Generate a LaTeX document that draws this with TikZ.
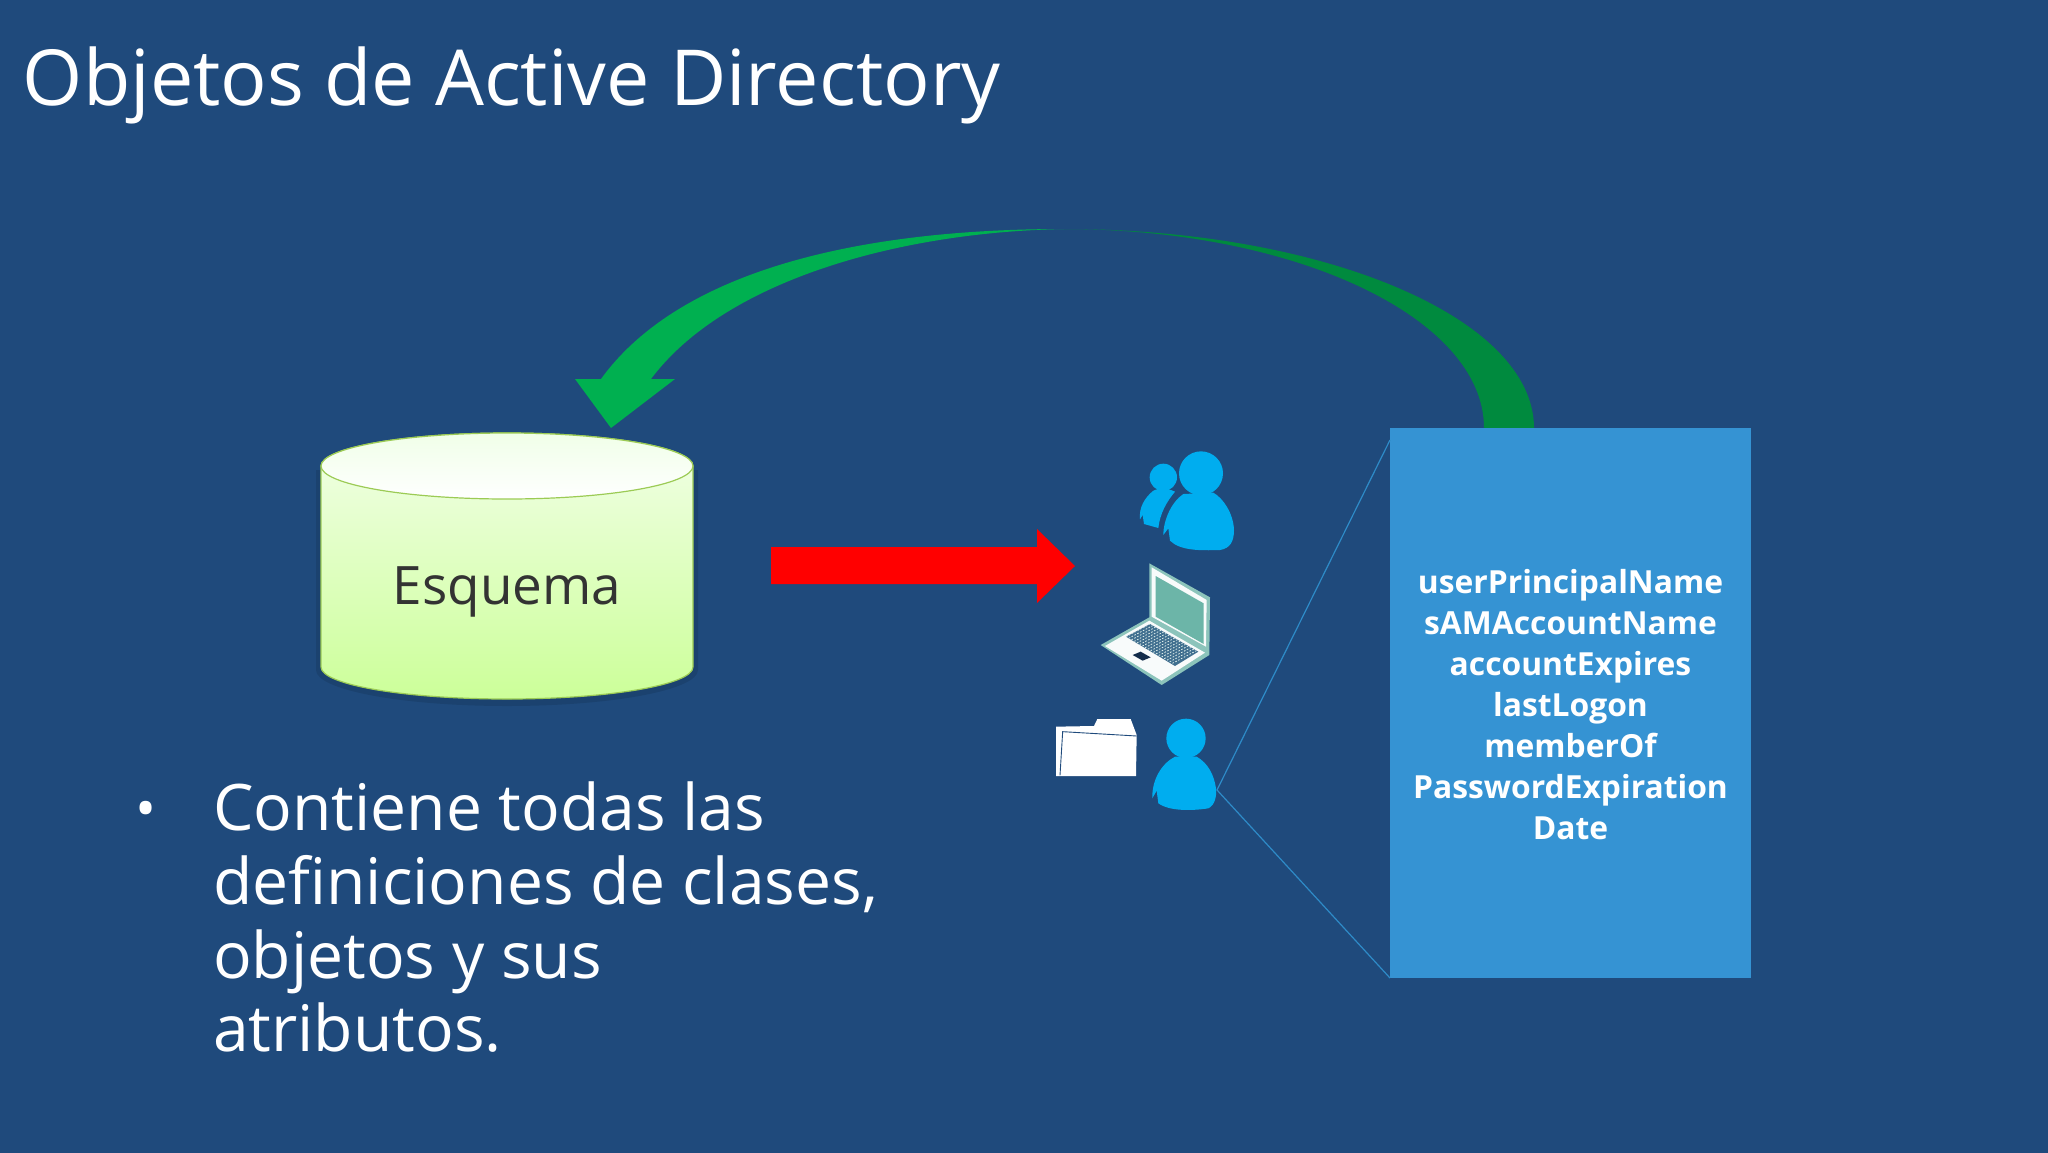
\documentclass[tikz,border=0pt]{standalone}
\usepackage{fontspec}
\setmainfont{Open Sans}
\usetikzlibrary{positioning}
\definecolor{bgblue}{HTML}{1F4A7C}
\definecolor{boxblue}{HTML}{3593D3}
\definecolor{linkblue}{HTML}{2E8BC8}
\definecolor{peopleblue}{HTML}{00ADEF}
\definecolor{arrowL}{HTML}{00B050}
\definecolor{arrowR}{HTML}{008A3E}
\definecolor{cylline}{HTML}{9CCB55}
\definecolor{lapteal}{HTML}{8CC4BB}
\definecolor{lapscreen}{HTML}{6CB5A8}
\tikzset{
  plain/.style={text=white,inner sep=0pt,outer sep=0pt},
  person/.style={fill=peopleblue,draw=none},
  zoomed/.style={shift={(1020,420)},x=0.33333pt,y=-0.33333pt},
}
\begin{document}
\begin{tikzpicture}[x=1pt,y=-1pt]
\useasboundingbox (0,0) rectangle (2048,1152);
\fill[bgblue] (-3,-3) rectangle (2051,1155);

% title
\node[plain,anchor=base west,font=\fontsize{77.3}{85}\selectfont] (title) at (23,105) {Objetos de Active Directory};

% green curved arrow
\fill[arrowR] (1534,428) .. controls (1534,318) and (1324,229) .. (1064,229)
  .. controls (1296,229) and (1484,318) .. (1484,428) -- cycle;
\fill[arrowL] (1064,229) .. controls (860,229) and (680,270) .. (601,379)
  -- (575,379) -- (611,428) -- (675,379) -- (651,379)
  .. controls (725,280) and (900,232) .. (1064,229) -- cycle;

% cylinder
\fill[black,opacity=.10] (316,470) -- (316,670) arc[start angle=180,end angle=0,x radius=191,y radius=36] -- (698,470) -- cycle;
\shade[top color={rgb,255:red,242;green,255;blue,232},bottom color={rgb,255:red,204;green,255;blue,153},draw=cylline,line width=1.2pt]
  (321,466) -- (321,667) arc[start angle=180,end angle=0,x radius=186,y radius=32] -- (693,466) arc[start angle=0,end angle=-180,x radius=186,y radius=33] -- cycle;
\shade[top color={rgb,255:red,240;green,255;blue,232},bottom color=white,draw=cylline,line width=1.2pt]
  (507,466) ellipse[x radius=186,y radius=33];
\node[plain,text={rgb,255:red,51;green,51;blue,51},anchor=base,font=\fontsize{53}{60}\selectfont] (esquema) at (507,604) {Esquema};

% red arrow
\fill[red] (771,547) -- (1037,547) -- (1037,529) -- (1075,566) -- (1037,603) -- (1037,584) -- (771,584) -- cycle;

% attribute box
\node[fill=boxblue,minimum width=361pt,minimum height=550pt,inner sep=0pt,outer sep=0pt,text=white,align=center,
  font=\fontsize{31.8}{40.9}\selectfont\bfseries,text depth=0pt] (attrs) at (1570.5,703)
  {\raisebox{-2.5pt}{userPrincipalName}\\\raisebox{-2.5pt}{sAMAccountName}\\\raisebox{-2.5pt}{accountExpires}\\\raisebox{-2.5pt}{lastLogon}\\\raisebox{-2.5pt}{memberOf}\\\raisebox{-2.5pt}{PasswordExpiration}\\\raisebox{-2.5pt}{Date}};

% links from the user icon to the box
\coordinate (userpt) at (1217,790);
\coordinate (boxtop) at (1390,440);
\draw[linkblue,line width=1.2pt] (boxtop) -- (userpt) -- (attrs.south west);

% bullet
\node[plain,anchor=center,font=\fontsize{56}{56}\selectfont] (bullet) at (146,815) {•};
\node[plain,anchor=north west,align=left,font=\fontsize{64.2}{73.7}\selectfont] (body) at (213,782)
  {Contiene todas las\\definiciones de clases,\\objetos y sus\\atributos.};

% icons
\begin{scope}[zoomed]
  % group
  \fill[person] (430,172) circle[radius=41];
  \fill[person] (465,215) .. controls (440,203) and (415,203) .. (400,212)
     .. controls (375,232) and (356,262) .. (360,298) -- (368,285) -- (372,312) -- (415,324)
     .. controls (420,280) and (440,245) .. (465,215) -- cycle;
  \fill[person] (543,160) circle[radius=66];
  \fill[person] (490,222) .. controls (455,245) and (430,300) .. (430,345) -- (445,325) -- (450,362)
     .. controls (480,392) and (540,392) .. (600,390) .. controls (630,385) and (642,365) .. (642,330)
     .. controls (640,280) and (610,235) .. (580,218) -- cycle;
  % laptop
  \fill[lapteal] (388,430) -- (570,532) -- (568,705) -- (425,795) -- (242,675) -- (388,592) -- cycle;
  \fill[white!94!lapteal] (395,442) -- (560,540) -- (558,680) -- (395,590) -- cycle;
  \fill[lapscreen] (407,468) -- (551,550) -- (551,672) -- (407,590) -- cycle;
  \fill[white!94!lapteal] (255,678) -- (388,602) -- (555,698) -- (425,782) -- cycle;
  \fill[bgblue!70!lapteal] (318,650) -- (390,612) -- (535,695) -- (465,738) -- cycle;
  \begin{scope}
    \clip (318,650) -- (390,612) -- (535,695) -- (465,738) -- cycle;
    \foreach \k in {0,...,17}
      \draw[white!70!lapteal,line width=.8pt,dash pattern=on 1.6pt off 1.6pt] ({318+\k*8.2},{650+\k*4.7}) -- ++(72,-38);
  \end{scope}
  \fill[black!40!bgblue] (338,705) -- (362,695) -- (392,712) -- (368,722) -- cycle;
  % folder
  \fill[white] (108,920) -- (222,918) -- (232,897) -- (332,897) -- (350,945) -- (348,1068) -- (108,1068) -- cycle;
  \draw[bgblue,line width=.9pt] (120,1066) -- (128,935) -- (350,948);
  % user
  \fill[person] (498,955) circle[radius=59];
  \fill[person] (465,1010) .. controls (425,1030) and (395,1080) .. (397,1135) -- (410,1112) -- (415,1150)
     .. controls (450,1175) and (520,1172) .. (565,1165) .. controls (585,1155) and (590,1130) .. (588,1105)
     .. controls (582,1065) and (565,1030) .. (530,1010) -- cycle;
\end{scope}
\end{tikzpicture}
\end{document}
